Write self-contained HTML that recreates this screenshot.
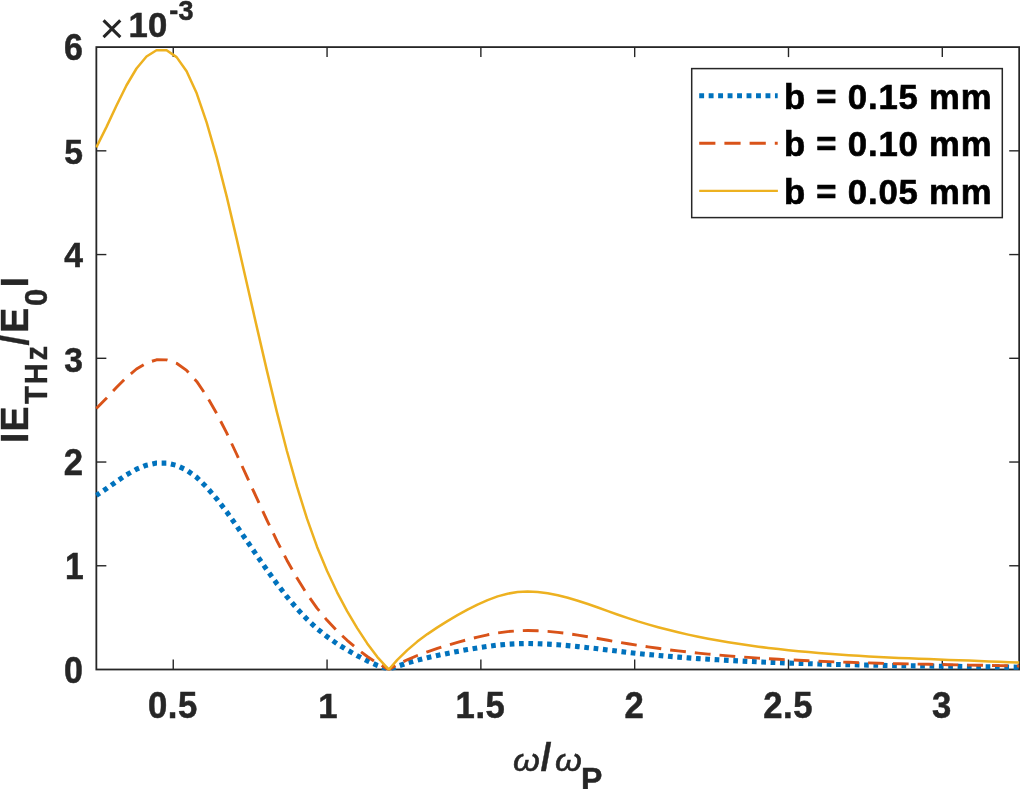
<!DOCTYPE html>
<html lang="en"><head><meta charset="utf-8"><title>THz field plot</title>
<style>html,body{margin:0;padding:0;background:#fff}body{width:1020px;height:789px;overflow:hidden}svg{display:block}text{font-family:'Liberation Sans', Arial, Helvetica, sans-serif;font-weight:bold}</style></head><body>
<svg width="1020" height="789" viewBox="0 0 1020 789" role="img" aria-label="Normalised THz field amplitude versus normalised frequency">
<rect x="0" y="0" width="1020" height="789" fill="#ffffff"/>
<g stroke="#262626" stroke-width="1.8" fill="none" stroke-linecap="square">
<rect x="96.35" y="47.1" width="922.85" height="622.40"/>
</g>
<g stroke="#262626" stroke-width="1.4" fill="none">
<line x1="173.25" y1="669.5" x2="173.25" y2="659.5"/>
<line x1="173.25" y1="47.1" x2="173.25" y2="57.1"/>
<line x1="327.06" y1="669.5" x2="327.06" y2="659.5"/>
<line x1="327.06" y1="47.1" x2="327.06" y2="57.1"/>
<line x1="480.87" y1="669.5" x2="480.87" y2="659.5"/>
<line x1="480.87" y1="47.1" x2="480.87" y2="57.1"/>
<line x1="634.68" y1="669.5" x2="634.68" y2="659.5"/>
<line x1="634.68" y1="47.1" x2="634.68" y2="57.1"/>
<line x1="788.49" y1="669.5" x2="788.49" y2="659.5"/>
<line x1="788.49" y1="47.1" x2="788.49" y2="57.1"/>
<line x1="942.30" y1="669.5" x2="942.30" y2="659.5"/>
<line x1="942.30" y1="47.1" x2="942.30" y2="57.1"/>
<line x1="96.35" y1="565.77" x2="106.35" y2="565.77"/>
<line x1="1019.2" y1="565.77" x2="1009.2" y2="565.77"/>
<line x1="96.35" y1="462.03" x2="106.35" y2="462.03"/>
<line x1="1019.2" y1="462.03" x2="1009.2" y2="462.03"/>
<line x1="96.35" y1="358.30" x2="106.35" y2="358.30"/>
<line x1="1019.2" y1="358.30" x2="1009.2" y2="358.30"/>
<line x1="96.35" y1="254.57" x2="106.35" y2="254.57"/>
<line x1="1019.2" y1="254.57" x2="1009.2" y2="254.57"/>
<line x1="96.35" y1="150.83" x2="106.35" y2="150.83"/>
<line x1="1019.2" y1="150.83" x2="1009.2" y2="150.83"/>
</g>
<clipPath id="clip"><rect x="95.35" y="46.1" width="924.85" height="624.4"/></clipPath>
<g fill="none" stroke-linejoin="round" clip-path="url(#clip)">
<path d="M96.3,495.5 L106.4,488.7 L116.4,481.6 L126.4,474.8 L136.5,469.2 L146.5,465.2 L156.5,463.1 L166.6,463.1 L176.6,465.4 L186.6,470.1 L196.7,477.4 L206.7,487.2 L216.7,498.8 L226.8,512.0 L236.8,526.1 L246.8,540.8 L256.9,555.5 L266.9,569.9 L276.9,583.7 L286.9,596.7 L297.0,608.6 L307.0,619.2 L317.0,628.6 L327.1,636.7 L337.1,643.8 L347.1,650.0 L357.2,655.7 L367.2,660.8 L377.2,665.3 L387.2,669.0 L388.9,669.5 L397.3,666.3 L407.3,663.0 L417.3,660.2 L427.4,657.7 L437.4,655.5 L447.4,653.4 L457.5,651.4 L467.5,649.6 L477.5,647.9 L487.6,646.4 L497.6,645.1 L507.6,644.2 L517.6,643.7 L527.7,643.5 L537.7,643.7 L547.7,644.1 L557.8,644.7 L567.8,645.6 L577.8,646.6 L587.9,647.7 L597.9,648.8 L607.9,650.0 L618.0,651.2 L628.0,652.4 L638.0,653.5 L648.0,654.5 L658.1,655.4 L668.1,656.3 L678.1,657.1 L688.2,657.9 L698.2,658.6 L708.2,659.2 L718.3,659.8 L728.3,660.4 L738.3,660.9 L748.4,661.4 L758.4,661.9 L768.4,662.3 L778.5,662.7 L788.5,663.1 L798.5,663.4 L808.5,663.7 L818.6,664.0 L828.6,664.3 L838.6,664.5 L848.7,664.7 L858.7,664.9 L868.7,665.1 L878.8,665.3 L888.8,665.5 L898.8,665.6 L908.9,665.8 L918.9,665.9 L928.9,666.0 L939.0,666.2 L949.0,666.3 L959.0,666.4 L969.0,666.5 L979.1,666.7 L989.1,666.8 L999.1,666.9 L1009.2,667.1 L1019.2,667.2" stroke="#0072BD" stroke-width="5.1" stroke-dasharray="4.7 4.65" stroke-dashoffset="0.6"/>
<path d="M96.3,408.5 L106.4,398.3 L116.4,387.6 L126.4,377.5 L136.5,369.0 L146.5,363.0 L156.5,359.8 L166.6,359.9 L176.6,363.3 L186.6,370.4 L196.7,381.4 L206.7,396.1 L216.7,413.5 L226.8,433.2 L236.8,454.5 L246.8,476.4 L256.9,498.4 L266.9,520.1 L276.9,540.8 L286.9,560.2 L297.0,578.1 L307.0,594.1 L317.0,608.1 L327.1,620.3 L337.1,630.9 L347.1,640.3 L357.2,648.8 L367.2,656.5 L377.2,663.1 L387.2,668.7 L388.9,669.5 L397.3,664.7 L407.3,659.8 L417.3,655.5 L427.4,651.8 L437.4,648.4 L447.4,645.3 L457.5,642.3 L467.5,639.6 L477.5,637.1 L487.6,634.8 L497.6,633.0 L507.6,631.6 L517.6,630.8 L527.7,630.5 L537.7,630.8 L547.7,631.4 L557.8,632.4 L567.8,633.6 L577.8,635.1 L587.9,636.8 L597.9,638.5 L607.9,640.3 L618.0,642.1 L628.0,643.8 L638.0,645.4 L648.0,646.9 L658.1,648.3 L668.1,649.7 L678.1,650.9 L688.2,652.0 L698.2,653.1 L708.2,654.1 L718.3,655.0 L728.3,655.9 L738.3,656.7 L748.4,657.4 L758.4,658.1 L768.4,658.7 L778.5,659.3 L788.5,659.8 L798.5,660.3 L808.5,660.8 L818.6,661.2 L828.6,661.6 L838.6,662.0 L848.7,662.3 L858.7,662.6 L868.7,662.9 L878.8,663.2 L888.8,663.5 L898.8,663.7 L908.9,663.9 L918.9,664.1 L928.9,664.3 L939.0,664.5 L949.0,664.7 L959.0,664.9 L969.0,665.1 L979.1,665.2 L989.1,665.4 L999.1,665.6 L1009.2,665.8 L1019.2,666.1" stroke="#D95319" stroke-width="2.9" stroke-dasharray="15.8 9.0" stroke-dashoffset="0.6"/>
<path d="M96.3,147.4 L106.4,127.1 L116.4,105.8 L126.4,85.5 L136.5,68.5 L146.5,56.5 L156.5,50.2 L166.6,50.2 L176.6,57.1 L186.6,71.3 L196.7,93.3 L206.7,122.6 L216.7,157.4 L226.8,196.9 L236.8,239.4 L246.8,283.3 L256.9,327.4 L266.9,370.6 L276.9,412.1 L286.9,451.0 L297.0,486.7 L307.0,518.7 L317.0,546.7 L327.1,571.0 L337.1,592.3 L347.1,611.1 L357.2,628.1 L367.2,643.4 L377.2,656.8 L387.2,667.9 L388.9,669.5 L397.3,659.9 L407.3,650.1 L417.3,641.6 L427.4,634.1 L437.4,627.4 L447.4,621.1 L457.5,615.2 L467.5,609.7 L477.5,604.6 L487.6,600.1 L497.6,596.4 L507.6,593.7 L517.6,592.1 L527.7,591.6 L537.7,592.0 L547.7,593.3 L557.8,595.2 L567.8,597.7 L577.8,600.7 L587.9,604.0 L597.9,607.5 L607.9,611.1 L618.0,614.7 L628.0,618.1 L638.0,621.4 L648.0,624.4 L658.1,627.2 L668.1,629.8 L678.1,632.3 L688.2,634.6 L698.2,636.7 L708.2,638.7 L718.3,640.5 L728.3,642.2 L738.3,643.8 L748.4,645.3 L758.4,646.7 L768.4,647.9 L778.5,649.1 L788.5,650.2 L798.5,651.2 L808.5,652.1 L818.6,653.0 L828.6,653.8 L838.6,654.5 L848.7,655.2 L858.7,655.8 L868.7,656.4 L878.8,656.9 L888.8,657.4 L898.8,657.9 L908.9,658.3 L918.9,658.7 L928.9,659.1 L939.0,659.5 L949.0,659.9 L959.0,660.2 L969.0,660.6 L979.1,661.0 L989.1,661.4 L999.1,661.8 L1009.2,662.2 L1019.2,662.6" stroke="#EDB120" stroke-width="2.5"/>
</g>
<g fill="#262626">
<text transform="translate(172.85,718.40) scale(1,1.045)" font-size="34.7" text-anchor="middle" letter-spacing="0.5" stroke="#262626" stroke-width="0.5">0.5</text>
<text transform="translate(327.96,717.70) scale(1,1.0)" font-size="34.7" text-anchor="middle" stroke="#262626" stroke-width="0.5">1</text>
<text transform="translate(480.47,718.40) scale(1,1.045)" font-size="34.7" text-anchor="middle" letter-spacing="0.5" stroke="#262626" stroke-width="0.5">1.5</text>
<text transform="translate(634.28,718.40) scale(1,1.045)" font-size="34.7" text-anchor="middle" letter-spacing="0.5" stroke="#262626" stroke-width="0.5">2</text>
<text transform="translate(788.09,718.40) scale(1,1.045)" font-size="34.7" text-anchor="middle" letter-spacing="0.5" stroke="#262626" stroke-width="0.5">2.5</text>
<text transform="translate(941.90,718.40) scale(1,1.045)" font-size="34.7" text-anchor="middle" letter-spacing="0.5" stroke="#262626" stroke-width="0.5">3</text>
<text transform="translate(83.00,682.65) scale(0.98,1.066)" font-size="34.7" text-anchor="end" stroke="#262626" stroke-width="0.5">0</text>
<text transform="translate(83.70,579.27) scale(0.97,1.045)" font-size="34.7" text-anchor="end" stroke="#262626" stroke-width="0.5">1</text>
<text transform="translate(83.00,475.48) scale(1.0,1.067)" font-size="34.7" text-anchor="end" stroke="#262626" stroke-width="0.5">2</text>
<text transform="translate(83.00,371.75) scale(0.97,1.02)" font-size="34.7" text-anchor="end" stroke="#262626" stroke-width="0.5">3</text>
<text transform="translate(83.00,267.17) scale(0.97,1.005)" font-size="34.7" text-anchor="end" stroke="#262626" stroke-width="0.5">4</text>
<text transform="translate(83.00,163.93) scale(0.97,1.01)" font-size="34.7" text-anchor="end" stroke="#262626" stroke-width="0.5">5</text>
<text transform="translate(83.00,60.25) scale(0.98,1.088)" font-size="34.7" text-anchor="end" stroke="#262626" stroke-width="0.5">6</text>
<text transform="translate(99.60,42.80) scale(1,1)" font-size="42.5" text-anchor="start" style="font-weight:normal">×</text>
<text transform="translate(128.60,36.90) scale(1.0,1.0)" font-size="34.7" text-anchor="start" letter-spacing="0.2" stroke="#262626" stroke-width="0.5">10</text>
<text transform="translate(169.30,19.90) scale(1.0,1.04)" font-size="27" text-anchor="start" letter-spacing="0.2" stroke="#262626" stroke-width="0.5">-3</text>
</g>
<g fill="#262626">
<text transform="translate(512.90,771.40) scale(1,0.93)" font-size="34.5" text-anchor="start" stroke="#262626" stroke-width="0.6" style="font-weight:normal;font-style:italic">ω</text>
<text transform="translate(540.80,770.00) scale(1.0,1.03)" font-size="38.2" text-anchor="start" stroke="#262626" stroke-width="0.4">/</text>
<text transform="translate(554.90,771.40) scale(1,0.93)" font-size="34.5" text-anchor="start" stroke="#262626" stroke-width="0.6" style="font-weight:normal;font-style:italic">ω</text>
<text transform="translate(581.00,790.30) scale(1,1)" font-size="32" text-anchor="start" stroke="#262626" stroke-width="0.5">P</text>
</g>
<g fill="#262626">
<text transform="translate(28.30,443.00) rotate(-90) scale(0.98,1.02)" font-size="38.2" dx="0 1.0" stroke="#262626" stroke-width="0.35">IE</text>
<text transform="translate(47.20,404.10) rotate(-90) scale(0.91,1.0)" font-size="32" dx="0 2.2 3.15" stroke="#262626" stroke-width="0.35">THz</text>
<text transform="translate(28.30,345.40) rotate(-90) scale(0.985,1.02)" font-size="38.2" dx="0 2.3" stroke="#262626" stroke-width="0.35">/E</text>
<text transform="translate(47.20,306.10) rotate(-90) scale(0.975,1.0)" font-size="32" stroke="#262626" stroke-width="0.35">0</text>
<text transform="translate(28.30,287.60) rotate(-90) scale(1.0,1.02)" font-size="38.2" stroke="#262626" stroke-width="0.35">I</text>
</g>
<rect x="691.7" y="68.6" width="310.6" height="149" fill="#ffffff" stroke="#262626" stroke-width="1.5"/>
<g fill="none">
<line x1="699.2" y1="95.8" x2="777.7" y2="95.8" stroke="#0072BD" stroke-width="5.1" stroke-dasharray="4.9 4.57"/>
<line x1="699.2" y1="143.2" x2="777.7" y2="143.2" stroke="#D95319" stroke-width="2.9" stroke-dasharray="16.2 9"/>
<line x1="699.2" y1="190.8" x2="777.9" y2="190.8" stroke="#EDB120" stroke-width="2.3"/>
</g>
<g>
<text transform="translate(783.90,108.70) scale(1,1)" font-size="34.7" text-anchor="start" letter-spacing="0.81" fill="#000000" stroke="#000000" stroke-width="0.65">b = 0.15 mm</text>
<text transform="translate(783.90,156.30) scale(1,1)" font-size="34.7" text-anchor="start" letter-spacing="0.81" fill="#000000" stroke="#000000" stroke-width="0.65">b = 0.10 mm</text>
<text transform="translate(783.90,203.90) scale(1,1)" font-size="34.7" text-anchor="start" letter-spacing="0.81" fill="#000000" stroke="#000000" stroke-width="0.65">b = 0.05 mm</text>
</g>
</svg></body></html>
